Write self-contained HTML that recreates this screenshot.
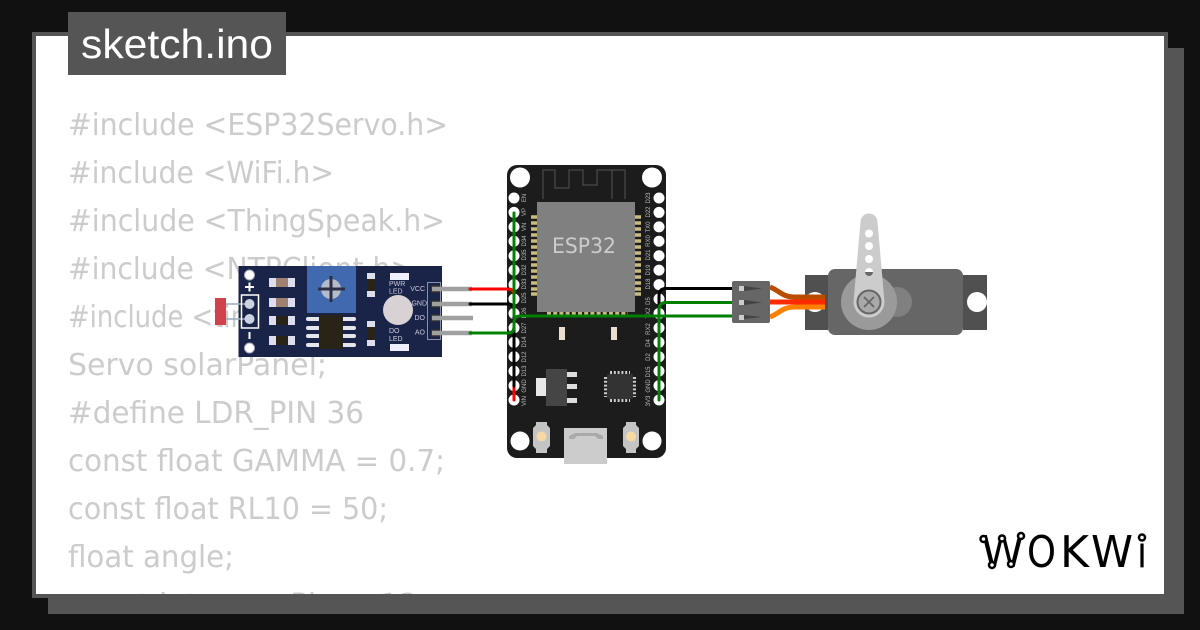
<!DOCTYPE html>
<html><head><meta charset="utf-8"><style>html,body{margin:0;padding:0;background:#111}svg{display:block}</style></head>
<body>
<svg width="1200" height="630" viewBox="0 0 1200 630" xmlns="http://www.w3.org/2000/svg">
<rect width="1200" height="630" fill="#111"/>
<rect x="48" y="48" width="1136" height="566" fill="#555"/>
<rect x="34" y="34" width="1132" height="562" fill="#fff" stroke="#555" stroke-width="4"/>
<clipPath id="c"><rect x="36" y="36" width="1128" height="558"/></clipPath>
<g clip-path="url(#c)" font-family="'DejaVu Sans',sans-serif" font-size="30" fill="#ccc">
<text x="68" y="135" textLength="380" lengthAdjust="spacingAndGlyphs">#include &lt;ESP32Servo.h&gt;</text>
<text x="68" y="183" textLength="266" lengthAdjust="spacingAndGlyphs">#include &lt;WiFi.h&gt;</text>
<text x="68" y="231" textLength="377" lengthAdjust="spacingAndGlyphs">#include &lt;ThingSpeak.h&gt;</text>
<text x="68" y="279" textLength="346" lengthAdjust="spacingAndGlyphs">#include &lt;NTPClient.h&gt;</text>
<text x="68" y="327" textLength="250" lengthAdjust="spacingAndGlyphs">#include &lt;time.h&gt;</text>
<text x="68" y="375" textLength="259" lengthAdjust="spacingAndGlyphs">Servo solarPanel;</text>
<text x="68" y="423" textLength="296" lengthAdjust="spacingAndGlyphs">#define LDR_PIN 36</text>
<text x="68" y="471" textLength="377" lengthAdjust="spacingAndGlyphs">const float GAMMA = 0.7;</text>
<text x="68" y="519" textLength="320" lengthAdjust="spacingAndGlyphs">const float RL10 = 50;</text>
<text x="68" y="567" textLength="166" lengthAdjust="spacingAndGlyphs">float angle;</text>
<text x="68" y="615" textLength="360" lengthAdjust="spacingAndGlyphs">const int servoPin = 13;</text>
</g>
<rect x="68" y="12" width="218" height="63" fill="#555"/>
<text x="81" y="58" font-family="'Liberation Sans',sans-serif" font-size="41" fill="#fff" textLength="192" lengthAdjust="spacingAndGlyphs">sketch.ino</text>

<!-- ESP32 -->
<rect x="507" y="165" width="159" height="293" rx="10" fill="#1c1c1c"/>
<circle cx="520" cy="177.500" r="10" fill="#fff"/><circle cx="652" cy="177.500" r="10" fill="#fff"/>
<circle cx="520" cy="441" r="9.500" fill="#fff"/><circle cx="652" cy="441" r="9.500" fill="#fff"/>
<line x1="514" y1="198" x2="514" y2="401" stroke="#fff" stroke-width="11" stroke-linecap="round" stroke-dasharray="0 14.430"/>
<line x1="659" y1="198" x2="659" y2="401" stroke="#fff" stroke-width="11" stroke-linecap="round" stroke-dasharray="0 14.430"/>
<path d="M543 199V170H555V188H569V170H583V185H597V170H625V199M612 170V199" fill="none" stroke="#4a4a4a" stroke-width="1.200"/>
<path d="M531 217H537M531 223H537M531 229H537M531 235H537M531 241H537M531 247H537M531 253H537M531 259H537M531 265H537M531 271H537M531 277H537M531 283H537M531 289H537M531 294H537M635 217H641M635 223H641M635 229H641M635 235H641M635 241H641M635 247H641M635 253H641M635 259H641M635 265H641M635 271H641M635 277H641M635 283H641M635 289H641M635 294H641" stroke="#c9bb82" stroke-width="3.500"/>
<path d="M547 314H628" stroke="#c9bb82" stroke-width="4" stroke-dasharray="4 2.200"/>
<rect x="537" y="202" width="98" height="110" fill="#808080"/>
<text x="552" y="253" font-family="'DejaVu Sans',sans-serif" font-size="21" fill="#ccc" textLength="64" lengthAdjust="spacingAndGlyphs">ESP32</text>
<g font-family="'Liberation Sans',sans-serif" font-size="6" fill="#bbb" text-anchor="middle">
<text transform="translate(526,198) rotate(-90)">EN</text>
<text transform="translate(526,212) rotate(-90)">VP</text>
<text transform="translate(526,227) rotate(-90)">VN</text>
<text transform="translate(526,241) rotate(-90)">D34</text>
<text transform="translate(526,255) rotate(-90)">D35</text>
<text transform="translate(526,270) rotate(-90)">D32</text>
<text transform="translate(526,284) rotate(-90)">D33</text>
<text transform="translate(526,298) rotate(-90)">D25</text>
<text transform="translate(526,313) rotate(-90)">D26</text>
<text transform="translate(526,328) rotate(-90)">D27</text>
<text transform="translate(526,342) rotate(-90)">D14</text>
<text transform="translate(526,357) rotate(-90)">D12</text>
<text transform="translate(526,371) rotate(-90)">D13</text>
<text transform="translate(526,386) rotate(-90)">GND</text>
<text transform="translate(526,401) rotate(-90)">VIN</text>
<text transform="translate(650,198) rotate(-90)">D23</text>
<text transform="translate(650,212) rotate(-90)">D22</text>
<text transform="translate(650,227) rotate(-90)">TX0</text>
<text transform="translate(650,241) rotate(-90)">RX0</text>
<text transform="translate(650,255) rotate(-90)">D21</text>
<text transform="translate(650,270) rotate(-90)">D19</text>
<text transform="translate(650,284) rotate(-90)">D18</text>
<text transform="translate(650,301) rotate(-90)">D5</text>
<text transform="translate(650,313) rotate(-90)">TX2</text>
<text transform="translate(650,329) rotate(-90)">RX2</text>
<text transform="translate(650,343) rotate(-90)">D4</text>
<text transform="translate(650,357) rotate(-90)">D2</text>
<text transform="translate(650,372) rotate(-90)">D15</text>
<text transform="translate(650,386) rotate(-90)">GND</text>
<text transform="translate(650,401) rotate(-90)">3V3</text>
</g>
<rect x="559" y="327" width="6" height="13" fill="#eadfce"/><rect x="611" y="327" width="6" height="13" fill="#eadfce"/>
<rect x="546" y="369" width="21" height="37" fill="#454545"/>
<rect x="536" y="378" width="10" height="18" fill="#e8e8e8"/>
<rect x="567" y="372" width="10" height="5" fill="#ddd"/><rect x="567" y="384" width="10" height="5" fill="#ddd"/><rect x="567" y="398" width="10" height="5" fill="#ddd"/>
<path d="M610 372.500H630M610 400.500H630" stroke="#ccc" stroke-width="3" stroke-dasharray="2 1.800"/>
<path d="M605.500 377V397M634.500 377V397" stroke="#ccc" stroke-width="3" stroke-dasharray="2 1.800"/>
<rect x="607" y="374" width="26" height="25" rx="2" fill="#333"/>
<path d="M536 422H547V425L550 428V446L547 449V453H536V449L533 446V428L536 425Z" fill="#c4c4c4"/><circle cx="541.500" cy="436.500" r="5" fill="#f6d9a3"/>
<path d="M626 422H636V425L639 428V446L636 449V453H626V449L623 446V428L626 425Z" fill="#c4c4c4"/><circle cx="631" cy="436.500" r="5" fill="#f6d9a3"/>
<rect x="564" y="428" width="43" height="36" fill="#ccc"/>
<path d="M569 436L575 433H597L603 436V439H598L595 436H577L574 439H569Z" fill="#aaa"/>

<!-- sensor -->
<rect x="238.500" y="266" width="203.500" height="91" fill="#1a2348"/>
<circle cx="249.500" cy="275" r="5" fill="#fff" stroke="#aab" stroke-width="1"/>
<circle cx="249.500" cy="348" r="5" fill="#fff" stroke="#aab" stroke-width="1"/>
<path d="M245 287H254M249.500 282.500V291.500M249.500 332V339" stroke="#fff" stroke-width="2"/>
<path d="M226 304H249M226 319H249" stroke="#9ab" stroke-width="1.500"/>
<rect x="215" y="298" width="11" height="27" fill="#d0434c"/>
<rect x="241.500" y="295" width="17" height="33" fill="none" stroke="#fff" stroke-width="1.500"/>
<circle cx="249.500" cy="304" r="5" fill="#c8d2e0"/><circle cx="249.500" cy="319" r="5" fill="#c8d2e0"/>
<rect x="269" y="278" width="26" height="9" fill="#dde"/><rect x="276" y="278" width="12" height="9" fill="#a08070"/>
<rect x="269" y="298" width="26" height="9" fill="#dde"/><rect x="276" y="298" width="12" height="9" fill="#a08070"/>
<rect x="269" y="316" width="26" height="9" fill="#dde"/><rect x="276" y="316" width="12" height="9" fill="#2a2418"/>
<rect x="269" y="336" width="26" height="9" fill="#dde"/><rect x="276" y="336" width="12" height="9" fill="#2a2418"/>
<rect x="307" y="266" width="49" height="47" fill="#4169b0"/>
<circle cx="331" cy="289" r="10" fill="#b4bccc"/>
<path d="M331 276V302M318 289H345" stroke="#2a2f45" stroke-width="3"/>
<path d="M308 319H354M308 328H354M308 336H354M308 345H354" stroke="#e4e6ee" stroke-width="4" stroke-linecap="round"/>
<rect x="319" y="315" width="24" height="34" fill="#2a2418"/>
<rect x="367" y="273" width="8" height="24" fill="#dde"/><rect x="367" y="279" width="8" height="12" fill="#2a2418"/>
<rect x="367" y="321" width="8" height="25" fill="#dde"/><rect x="367" y="327" width="8" height="13" fill="#2a2418"/>
<rect x="390" y="273" width="19" height="7" fill="#eef"/><rect x="390" y="344" width="19" height="7" fill="#eef"/>
<circle cx="398" cy="310" r="15" fill="#d8d2d4"/>
<g font-family="'Liberation Sans',sans-serif" font-size="7" fill="#ccd">
<text x="389" y="286">PWR</text><text x="389" y="293.500">LED</text>
<text x="389" y="333">DO</text><text x="389" y="341">LED</text>
<g text-anchor="end"><text x="425" y="291">VCC</text><text x="427" y="305.500">GND</text><text x="425" y="320">DO</text><text x="425" y="334.500">AO</text></g>
</g>
<rect x="427.500" y="282.500" width="13" height="57" fill="none" stroke="#8a90a8" stroke-width="1"/>
<path d="M431 289H440M431 304H440M431 318H440M431 333H440" stroke="#3a3428" stroke-width="7"/>
<path d="M432 289H472M432 304H472M432 318H473M432 333H472" stroke="#a0a0a0" stroke-width="4.500"/>

<!-- wires -->
<g fill="none" stroke-width="3" stroke-linecap="round">
<path d="M470 289H508Q514 289 514 295V400" stroke="#f00"/>
<path d="M470 304H508Q514 304 514 310V386" stroke="#000"/>
<path d="M733 288.500H666Q659 288.500 659 296V386" stroke="#000"/>
<path d="M733 302.500H666Q659 302.500 659 310V400" stroke="green"/>
<path d="M470 333H508Q514 333 514 327V322Q514 316 520 316H733" stroke="green"/>
<path d="M514 213V316" stroke="green"/>
</g>

<!-- servo -->
<rect x="805" y="275" width="23" height="55" fill="#505050"/>
<rect x="963" y="275" width="24" height="55" fill="#505050"/>
<circle cx="815" cy="302" r="10" fill="#fff"/><circle cx="977" cy="302" r="10" fill="#fff"/>
<rect x="828" y="269" width="135" height="66" rx="7" fill="#666"/>
<circle cx="897" cy="302" r="15" fill="#808080"/>
<circle cx="869" cy="302" r="28" fill="#9a9a9a"/>
<path d="M860.500 222A8.500 8.500 0 0 1 877.500 222L884.500 302A15.500 15.500 0 0 1 853.500 302Z" fill="#ccc"/>
<circle cx="869" cy="233.500" r="4" fill="#fff"/><circle cx="869" cy="246" r="4" fill="#fff"/><circle cx="869" cy="259" r="4" fill="#fff"/>
<circle cx="869" cy="272" r="4" fill="#fff"/><path d="M865 272H873A4 4 0 0 1 865 272Z" fill="#666"/>
<circle cx="869" cy="302" r="11.500" fill="#a8a8a8" stroke="#666" stroke-width="2"/>
<path d="M864 297L874 307M874 297L864 307" stroke="#666" stroke-width="1.800"/>
<g fill="none" stroke-width="5">
<path d="M770 287C780 291 782 297 795 297H825" stroke="#b84d00"/>
<path d="M770 317C780 313 782 307 795 307H825" stroke="#ff8000"/>
<path d="M770 302H825" stroke="#ff2a00"/>
</g>
<rect x="732" y="281" width="38" height="42" rx="2" fill="#666"/>
<path d="M744 286L762 288.500L744 291ZM744 300L762 302.500L744 305ZM744 315L762 317L744 319Z" fill="#444"/>
<rect x="739" y="286" width="5" height="5" fill="#ccc"/><rect x="739" y="300" width="5" height="5" fill="#ccc"/><rect x="739" y="315" width="5" height="5" fill="#ccc"/>

<!-- logo -->
<g font-family="'DejaVu Sans',sans-serif" font-size="44" fill="#000">
<text x="981" y="567" textLength="43" lengthAdjust="spacingAndGlyphs">W</text>
<text x="1027" y="567" textLength="29" lengthAdjust="spacingAndGlyphs">O</text>
<text x="1060" y="567" textLength="29" lengthAdjust="spacingAndGlyphs">K</text>
<text x="1091" y="567" textLength="42" lengthAdjust="spacingAndGlyphs">W</text>
<text x="1137" y="567" textLength="10" lengthAdjust="spacingAndGlyphs">i</text>
</g>
<g fill="#fff" stroke="#000" stroke-width="2.500">
<circle cx="983.500" cy="539" r="3"/><circle cx="1002" cy="538.500" r="3"/><circle cx="1021" cy="536" r="3"/>
<circle cx="992" cy="565" r="3"/><circle cx="1011" cy="564" r="3"/><circle cx="1142" cy="537.500" r="3"/>
</g>
</svg>
</body></html>
